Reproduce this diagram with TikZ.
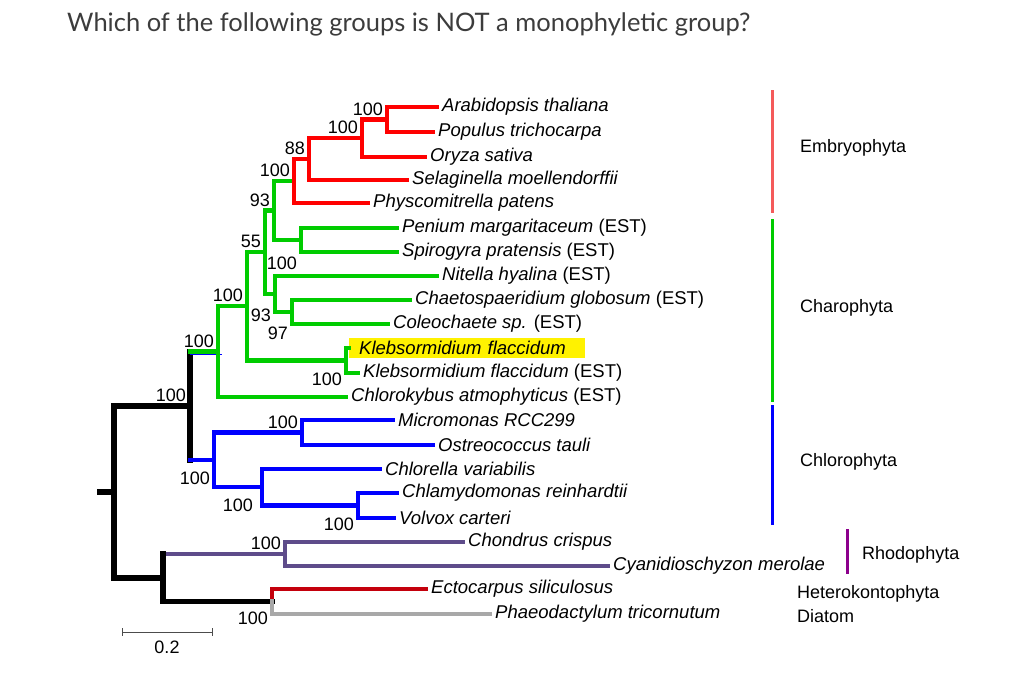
\documentclass[tikz,border=0pt]{standalone}
\usepackage{fontspec}
\setmainfont{Liberation Sans}
\newfontfamily\titlefont{Lato}

\definecolor{embred}{RGB}{255,0,0}
\definecolor{chagreen}{RGB}{0,204,0}
\definecolor{chlblue}{RGB}{0,0,255}
\definecolor{rhopurple}{RGB}{94,76,138}
\definecolor{ectored}{RGB}{196,0,12}
\definecolor{diagray}{RGB}{168,168,168}
\definecolor{embbar}{RGB}{244,90,90}
\definecolor{rhobar}{RGB}{140,0,140}
\definecolor{titlegray}{RGB}{60,60,60}

\tikzset{
  br/.style={line width=4.5pt, line cap=rect},
  trunk/.style={line width=5.5pt, line cap=rect, black},
  leaf/.style={anchor=west, inner xsep=5pt, inner ysep=1pt, font=\fontsize{18.5}{20}\selectfont\itshape},
  boot/.style={font=\fontsize{18}{19}\selectfont, inner sep=1pt},
  bootup/.style={boot, anchor=south east, xshift=-3pt, yshift=3pt},
  bootdn/.style={boot, anchor=north east, xshift=-3pt, yshift=-11pt},
  grouplab/.style={anchor=west, inner sep=0pt, font=\fontsize{18}{20}\selectfont},
  groupbar/.style={line width=3pt},
}

\begin{document}
\begin{tikzpicture}[x=1pt, y=-1pt]
\useasboundingbox (0,-2) rectangle (1024,684);

\node[anchor=west, inner sep=0pt, text=titlegray, font=\titlefont\fontsize{25.5}{28}\selectfont] (title) at (67,22) {Which of the following groups is NOT a monophyletic group?};

% leaves
\node[leaf] (arab) at (437,105) {Arabidopsis thaliana};
\node[leaf] (popu) at (433,130) {Populus trichocarpa};
\node[leaf] (oryz) at (425,155) {Oryza sativa};
\node[leaf] (sela) at (407,178) {Selaginella moellendorffii};
\node[leaf] (phys) at (368,201) {Physcomitrella patens};
\node[leaf] (peni) at (397,226) {Penium margaritaceum \upshape(EST)};
\node[leaf] (spir) at (397,250) {Spirogyra pratensis \upshape(EST)};
\node[leaf] (nite) at (437,274) {Nitella hyalina \upshape(EST)};
\node[leaf] (chae) at (410,298) {Chaetospaeridium globosum \upshape(EST)};
\node[leaf] (cole) at (388,322) {Coleochaete sp. \upshape(EST)};
\node[leaf, fill=yellow, inner xsep=10pt, text width=216pt, minimum height=20pt] (kleb1) at (349,346) {Klebsormidium flaccidum};
\node[leaf] (kleb2) at (358,371) {Klebsormidium flaccidum \upshape(EST)};
\node[leaf] (chlk) at (346,395) {Chlorokybus atmophyticus \upshape(EST)};
\node[leaf] (micr) at (393,418) {Micromonas RCC299};
\node[leaf] (ostr) at (433,443) {Ostreococcus tauli};
\node[leaf] (chlo) at (380,467) {Chlorella variabilis};
\node[leaf] (chla) at (397,491) {Chlamydomonas reinhardtii};
\node[leaf] (volv) at (394,516) {Volvox carteri};
\node[leaf] (chon) at (463,540) {Chondrus crispus};
\node[leaf] (cyan) at (608,564) {Cyanidioschyzon merolae};
\node[leaf] (ecto) at (426,587) {Ectocarpus siliculosus};
\node[leaf] (phae) at (490,612) {Phaeodactylum tricornutum};

% inner nodes
\coordinate (e4) at (387,117.5);
\coordinate (e3) at (362,136);
\coordinate (e2) at (309,157);
\coordinate (e1) at (294,179);
\coordinate (ps) at (301,238);
\coordinate (g4) at (274,208.5);
\coordinate (cc) at (292,310);
\coordinate (g5) at (275,292);
\coordinate (g3) at (265,250);
\coordinate (kb) at (346,358.5);
\coordinate (g2) at (247,304);
\coordinate (g1) at (218,349.5);
\coordinate (b2) at (302,430.5);
\coordinate (b4) at (358,503.5);
\coordinate (b3) at (262,485);
\coordinate (b1) at (214,458);
\coordinate (na) at (190,404);
\coordinate (rh) at (285,552);
\coordinate (hk) at (272,599.5);
\coordinate (nr) at (163,576);
\coordinate (root) at (114,490);
\coordinate (stub) at (100,490);

% branches
\draw[trunk] (stub) -- (root);
\draw[trunk] (na) -| (root) |- (nr);
\draw[trunk] (na |- g1) -- (na |- b1);
\draw[br, chagreen] (na |- g1) -- (g1);
\draw[chlblue, line width=0.8pt] ([yshift=-3pt]na |- g1) -- ++(32,0);
\draw[br, chlblue] (na |- b1) -- (b1);

\draw[br, chagreen] (g2) -| (g1) |- (chlk.west);
\draw[br, chagreen] (g3) -| (g2) |- (kb);
\draw[br, chagreen] (g4) -| (g3) |- (g5);
\draw[br, chagreen] (e1) -| (g4) |- (ps);
\draw[br, chagreen] (peni.west) -| (ps) |- (spir.west);
\draw[br, chagreen] (nite.west) -| (g5) |- (cc);
\draw[br, chagreen] (chae.west) -| (cc) |- (cole.west);
\draw[br, chagreen] (kleb1.west) -| (kb) |- (kleb2.west);

\draw[br, embred] (e2) -| (e1) |- (phys.west);
\draw[br, embred] (e3) -| (e2) |- (sela.west);
\draw[br, embred] (e4) -| (e3) |- (oryz.west);
\draw[br, embred] (arab.west) -| (e4) |- (popu.west);

\draw[br, chlblue] (b2) -| (b1) |- (b3);
\draw[br, chlblue] (micr.west) -| (b2) |- (ostr.west);
\draw[br, chlblue] (chlo.west) -| (b3) |- (b4);
\draw[br, chlblue] (chla.west) -| (b4) |- (volv.west);

\draw[br, rhopurple] (nr |- rh) -- (rh);
\draw[trunk] (nr |- rh) -- (nr |- hk) -- (hk);
\draw[br, rhopurple] (chon.west) -| (rh) |- (cyan.west);
\draw[br, ectored] (ecto.west) -| (hk);
\draw[br, diagray] (hk) |- (phae.west);

% bootstrap values
\node[bootup] (be4) at (e4) {100};
\node[bootup] (be3) at (e3) {100};
\node[bootup] (be2) at (e2) {88};
\node[bootup] (be1) at (e1) {100};
\node[bootup] (bg4) at (g4) {93};
\node[bootup] (bg3) at (g3) {55};
\node[bootup] (bg2) at (g2) {100};
\node[bootup] (bg1) at (g1) {100};
\node[bootup] (bna) at (na) {100};
\node[bootup] (bb2) at (b2) {100};
\node[bootup] (brh) at (rh) {100};
\node[bootdn, yshift=-5pt] (bps) at (ps) {100};
\node[bootdn, yshift=-3pt] (bg5) at (g5) {93};
\node[bootdn, yshift=-3pt] (bcc) at (cc) {97};
\node[bootdn] (bkb) at (kb) {100};
\node[bootdn] (bb1) at (b1) {100};
\node[bootdn, xshift=-5pt] (bb3) at (b3) {100};
\node[bootdn] (bb4) at (b4) {100};
\node[bootdn, yshift=2pt] (bhk) at (hk) {100};

% scale bar
\coordinate (sbl) at (122,630);
\coordinate (sbr) at (212,630);
\draw[black!70, line width=1pt] (sbl) -- (sbr);
\draw[black!70, line width=1pt] ([yshift=4pt]sbl) -- ([yshift=-4pt]sbl);
\draw[black!70, line width=1pt] ([yshift=4pt]sbr) -- ([yshift=-4pt]sbr);
\node[boot] (sblab) at (167,645) {0.2};

% groups
\coordinate (embtop) at (772,88);
\coordinate (embbot) at (772,211);
\coordinate (chatop) at (772,217);
\coordinate (chabot) at (772,400);
\coordinate (chltop) at (772,403);
\coordinate (chlbot) at (772,523);
\coordinate (rhotop) at (847,527);
\coordinate (rhobot) at (847,572);
\draw[groupbar, embbar] (embtop) -- (embbot);
\draw[groupbar, chagreen] (chatop) -- (chabot);
\draw[groupbar, chlblue] (chltop) -- (chlbot);
\draw[groupbar, rhobar] (rhotop) -- (rhobot);
\node[grouplab] (emb) at (800,146) {Embryophyta};
\node[grouplab] (cha) at (800,306) {Charophyta};
\node[grouplab] (chl) at (800,460) {Chlorophyta};
\node[grouplab] (rho) at (862,553) {Rhodophyta};
\node[grouplab] (het) at (797,592) {Heterokontophyta};
\node[grouplab] (dia) at (797,614) {Diatom};
\end{tikzpicture}
\end{document}
